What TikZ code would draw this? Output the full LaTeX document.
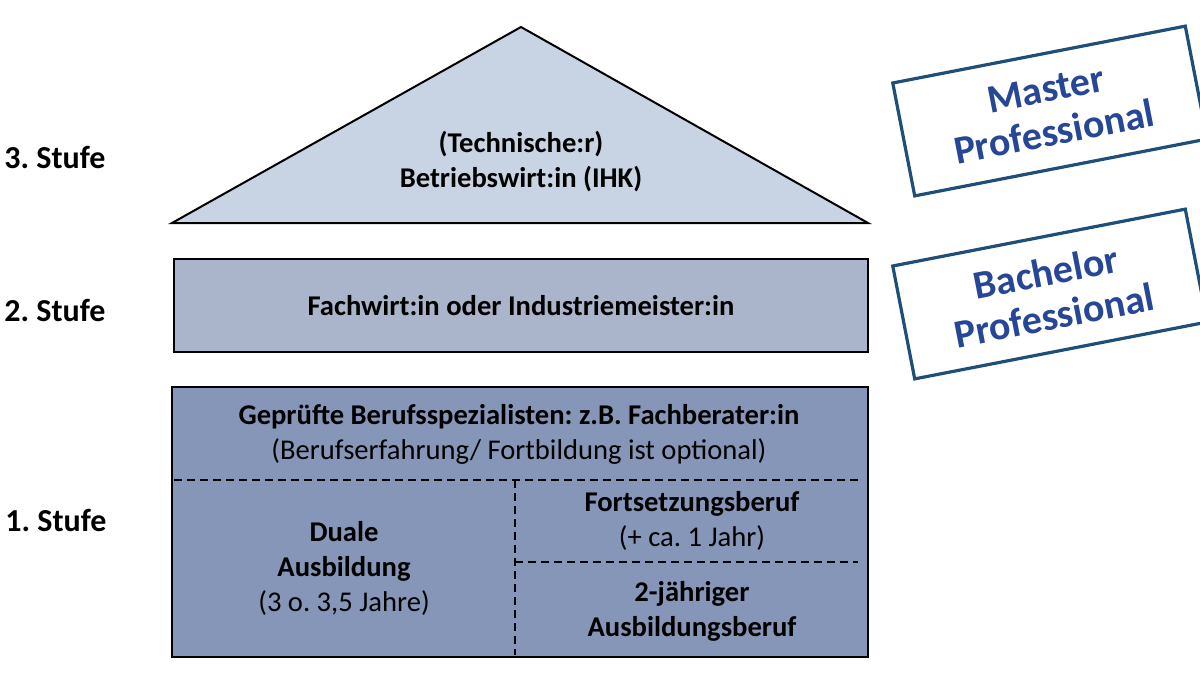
\documentclass[tikz,border=0pt]{standalone}
\usepackage{fontspec}
\setmainfont{Carlito}
\usepackage{tikz}
\usetikzlibrary{positioning}
\frenchspacing
\definecolor{dachfarbe}{RGB}{200,211,227}
\definecolor{mittefarbe}{RGB}{170,180,203}
\definecolor{sockelfarbe}{RGB}{133,150,184}
\definecolor{rahmenblau}{RGB}{31,78,121}
\definecolor{schriftblau}{RGB}{38,70,150}
\tikzset{stufe/.style={font=\bfseries\fontsize{16}{19}\selectfont}}
\tikzset{txt/.style={align=center, font=\bfseries\fontsize{14.3}{17.5}\selectfont}}
\tikzset{trenn/.style={dash pattern=on 4pt off 2.5pt, line width=0.8pt}}
\tikzset{prof/.style={draw=rahmenblau, line width=1.6pt, rotate=11, minimum width=149pt, minimum height=57.5pt, align=center, text=schriftblau, font=\bfseries\fontsize{20}{22}\selectfont}}

\begin{document}
\begin{tikzpicture}[x=0.5pt,y=-0.5pt]
\useasboundingbox (0,0) rectangle (1200,675);
% 3. Stufe
\coordinate (spitze) at (521,27);
\coordinate (dachL) at (172,223);
\coordinate (dachR) at (868,223);
\draw[fill=dachfarbe, line width=1pt] (dachL) -- (spitze) -- (dachR) -- cycle;
\node[txt] (betriebswirt) at (521,162) {(Technische:r)\\Betriebswirt:in (IHK)};
% 2. Stufe
\draw[fill=mittefarbe, line width=1pt] (174,259) rectangle (868,352);
\node[txt] (fachwirt) at (521,306) {Fachwirt:in oder Industriemeister:in};
% 1. Stufe
\draw[fill=sockelfarbe, line width=1pt] (172,387) rectangle (868,657);
\coordinate (t1L) at (174,480);
\coordinate (t1R) at (860,480);
\coordinate (t2O) at (515,480);
\coordinate (t2U) at (515,655);
\coordinate (t3L) at (515,562);
\coordinate (t3R) at (858,562);
\draw[trenn] (t1L) -- (t1R);
\draw[trenn] (t2O) -- (t2U);
\draw[trenn] (t3L) -- (t3R);
\node[txt] (spezialist) at (519,434) {Geprüfte Berufsspezialisten: z.B. Fachberater:in\\{\mdseries (Berufserfahrung/ Fortbildung ist optional)}};
\node[txt] (duale) at (344,568) {Duale\\Ausbildung\\{\mdseries (3 o. 3,5 Jahre)}};
\node[txt] (fortsetzung) at (692,521) {Fortsetzungsberuf\\{\mdseries (+ ca. 1 Jahr)}};
\node[txt] (zweijaehrig) at (692,611) {2-jähriger\\Ausbildungsberuf};
% Stufen links
\node[stufe] (stufe3) at (55,157) {3. Stufe};
\node[stufe] (stufe2) at (55,310) {2. Stufe};
\node[stufe] (stufe1) at (56,520) {1. Stufe};
% Abschluesse rechts
\node[prof] (master) at (1050,111) {Master\\Professional};
\node[prof] (bachelor) at (1050,294) {Bachelor\\Professional};
\end{tikzpicture}
\end{document}
